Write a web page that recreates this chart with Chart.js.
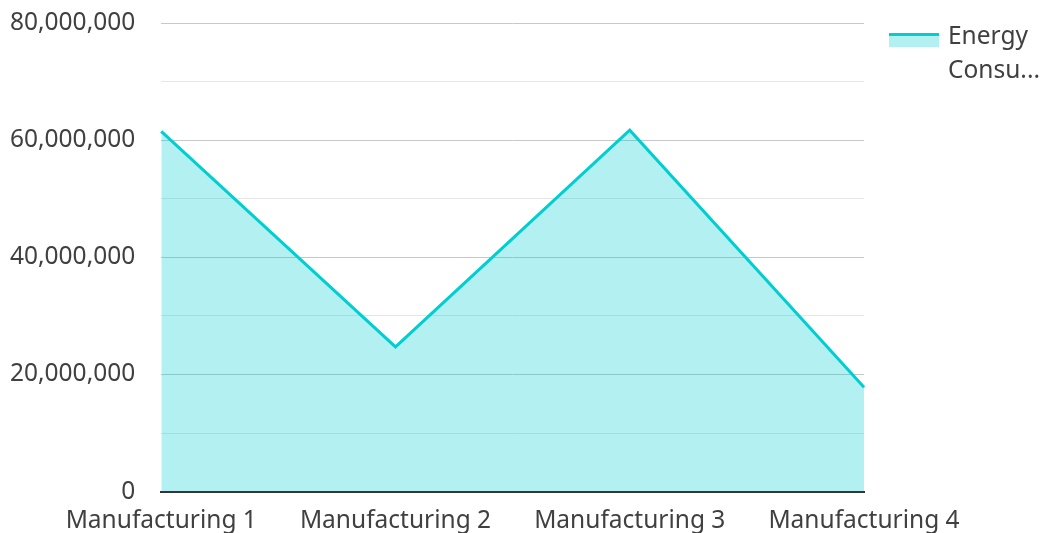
<!DOCTYPE html>
<html>
<head>
<meta charset="utf-8">
<script src="https://cdn.jsdelivr.net/npm/chart.js@4/dist/chart.umd.min.js"></script>
<style>
  html, body { margin: 0; padding: 0; background: #fff; }
  #wrap { width: 1043px; height: 533px; position: relative; }
</style>
</head>
<body>
<div id="wrap"><canvas id="c"></canvas></div>
<script>
const categories = ['Manufacturing 1', 'Manufacturing 2', 'Manufacturing 3', 'Manufacturing 4'];
const seriesLabel = 'Energy Consumption';
const energyValues = [61500000, 24700000, 61700000, 17800000];
const yTickValues = [0, 20000000, 40000000, 60000000, 80000000];

const FONT = '"Noto Sans", "Open Sans", sans-serif';
const FSIZE = 24.5;
const LINE = '#00CED1';
const FILL = 'rgba(0,206,209,0.3)';
const TEXT = '#404040';

const legendPlugin = {
  id: 'sideLegend',
  afterDraw(chart) {
    const ctx = chart.ctx;
    const ds = chart.data.datasets[0];
    const x = 889, y = 33, w = 50, h = 14;
    ctx.save();
    ctx.fillStyle = ds.backgroundColor;
    ctx.fillRect(x, y, w, h);
    ctx.fillStyle = ds.borderColor;
    ctx.fillRect(x, y, w, 3);
    ctx.font = FSIZE + 'px ' + FONT;
    ctx.fillStyle = TEXT;
    ctx.textBaseline = 'middle';
    const maxW = 95;
    const lines = ds.label.split(' ').map(word => {
      if (ctx.measureText(word).width <= maxW) return word;
      let s = word;
      while (s.length > 1 && ctx.measureText(s + '...').width > maxW) s = s.slice(0, -1);
      return s + '...';
    });
    lines.forEach((ln, i) => ctx.fillText(ln, 948, 37 + i * 34));
    ctx.restore();
  }
};

new Chart(document.getElementById('c'), {
  type: 'line',
  data: {
    labels: categories,
    datasets: [{
      label: seriesLabel,
      data: energyValues,
      borderColor: LINE,
      backgroundColor: FILL,
      borderWidth: 3,
      fill: 'origin',
      pointRadius: 0,
      pointHoverRadius: 0,
      tension: 0
    }]
  },
  options: {
    responsive: true,
    maintainAspectRatio: false,
    animation: false,
    layout: { padding: { left: 10, right: 179, top: 23, bottom: -18 } },
    plugins: { legend: { display: false }, tooltip: { enabled: false } },
    scales: {
      x: {
        offset: false,
        grid: { display: false, drawTicks: false },
        border: { display: true, color: '#333333', width: 2 },
        ticks: { color: TEXT, font: { family: FONT, size: FSIZE }, padding: 15, maxRotation: 0, autoSkip: false }
      },
      y: {
        min: 0,
        max: 80000000,
        grid: {
          drawTicks: true,
          tickLength: 26,
          tickColor: 'rgba(0,0,0,0)',
          color: c => (c.tick && yTickValues.includes(c.tick.value)) ? '#c8c8c8' : '#e6e6e6',
          lineWidth: 1
        },
        border: { display: false },
        ticks: {
          stepSize: 10000000,
          color: TEXT,
          font: { family: FONT, size: FSIZE },
          padding: 0,
          callback: v => yTickValues.includes(v) ? v.toLocaleString('en-US') : ''
        }
      }
    }
  },
  plugins: [legendPlugin]
});
</script>
</body>
</html>
